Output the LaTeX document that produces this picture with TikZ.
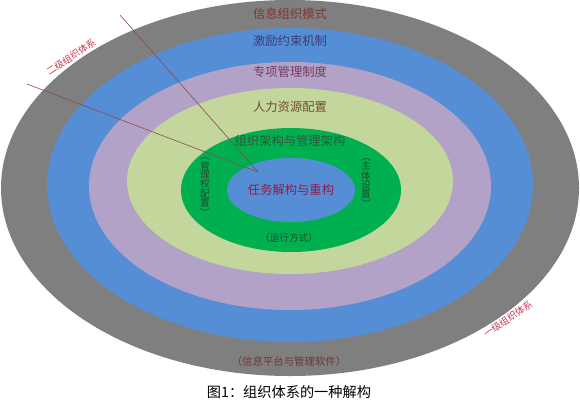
\documentclass[tikz,border=0pt]{standalone}
\usepackage{fontspec}
\usetikzlibrary{shapes.geometric}
\newfontfamily\cjk{Noto Sans CJK SC}
\definecolor{ringgray}{HTML}{7F7F7F}
\definecolor{ringblue}{HTML}{558ED5}
\definecolor{ringpurple}{HTML}{B3A2C7}
\definecolor{ringlight}{HTML}{C3D69B}
\definecolor{ringgreen}{HTML}{00B050}
\definecolor{pointer}{HTML}{8B4A4A}
\definecolor{sysred}{HTML}{C8364F}
\begin{document}
\begin{tikzpicture}
[
    x=1pt, y=-1pt,
    ring/.style={ellipse, inner sep=0pt, draw=none},
    lab/.style={font=\cjk\fontsize{12.3}{14}\selectfont, inner sep=0pt},
    note/.style={font=\cjk\fontsize{9.6}{9.4}\selectfont, inner sep=0pt, align=center},
    tier/.style={font=\cjk\fontsize{9.4}{11}\selectfont, inner sep=0pt, text=sysred},
]
\useasboundingbox (0,0) rectangle (580,405);
\node [ring, fill=ringgray, minimum width=578, minimum height=376] (info) at (290,188) {};
\node [ring, fill=ringblue, minimum width=486, minimum height=314] (incent) at (290,185) {};
\node [ring, fill=ringpurple, minimum width=402, minimum height=248] (rules) at (290,186) {};
\node [ring, fill=ringlight, minimum width=326, minimum height=186] (staff) at (290,181) {};
\node [ring, fill=ringgreen, minimum width=220, minimum height=124] (frame) at (291,190) {};
\node [ring, fill=ringblue, minimum width=128, minimum height=64] (task) at (291,190) {};

\node [lab, text={rgb,255:red,125;green,55;blue,55}] (info-t) at (290,14) {信息组织模式};
\node [lab, text={rgb,255:red,60;green,60;blue,120}] (incent-t) at (290,41) {激励约束机制};
\node [lab, text={rgb,255:red,120;green,60;blue,90}] (rules-t) at (290,72) {专项管理制度};
\node [lab, text={rgb,255:red,110;green,80;blue,50}] (staff-t) at (290,107) {人力资源配置};
\node [lab, text={rgb,255:red,50;green,85;blue,60}] (frame-t) at (290,141) {组织架构与管理架构};
\node [lab, text={rgb,255:red,140;green,30;blue,75}] (task-t) at (291,190) {任务解构与重构};

\node [note, text={rgb,255:red,35;green,70;blue,45}] (run) at (289,238) {（运行方式）};
\node [note, text={rgb,255:red,35;green,70;blue,45}] (power) at (205,187) {︵\\管\\理\\权\\配\\置\\︶};
\node [note, text={rgb,255:red,35;green,70;blue,45}] (body) at (366,183) {︵\\主\\体\\设\\置\\︶};
\node [note, text={rgb,255:red,110;green,55;blue,55}, font=\cjk\fontsize{10.4}{11}\selectfont] (soft) at (289,362) {（信息平台与管理软件）};

\node [tier, rotate=33] (second) at (71,57) {二级组织体系};
\node [tier, rotate=34] (first) at (508,319) {一级组织体系};

\coordinate (hub) at (258,172);
\coordinate (from-a) at (120,15);
\coordinate (from-b) at (27,84);
\draw [pointer, line width=0.6pt] (from-a) -- (hub);
\draw [pointer, line width=0.6pt] (from-b) -- (hub);

\node [font=\cjk\fontsize{14.2}{16}\selectfont, inner sep=0pt] (caption) at (289,392) {图1：组织体系的一种解构};
\end{tikzpicture}
\end{document}
